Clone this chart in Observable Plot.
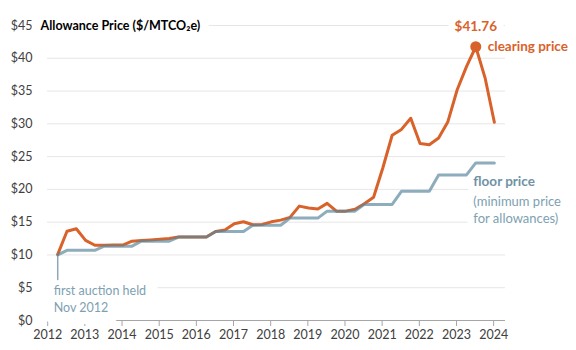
<!DOCTYPE html>
<html>
<head>
<meta charset="utf-8">
<script src="https://cdn.jsdelivr.net/npm/d3@7"></script>
<script src="https://cdn.jsdelivr.net/npm/@observablehq/plot@0.6"></script>
<style>
  html, body { margin: 0; padding: 0; background: #fff; }
</style>
</head>
<body>
<div id="chart"></div>
<script>
// Quarterly auctions, Nov 2012 – Aug 2024
const auctions = [
  "Nov 2012",
  "Feb 2013","May 2013","Aug 2013","Nov 2013",
  "Feb 2014","May 2014","Aug 2014","Nov 2014",
  "Feb 2015","May 2015","Aug 2015","Nov 2015",
  "Feb 2016","May 2016","Aug 2016","Nov 2016",
  "Feb 2017","May 2017","Aug 2017","Nov 2017",
  "Feb 2018","May 2018","Aug 2018","Nov 2018",
  "Feb 2019","May 2019","Aug 2019","Nov 2019",
  "Feb 2020","May 2020","Aug 2020","Nov 2020",
  "Feb 2021","May 2021","Aug 2021","Nov 2021",
  "Feb 2022","May 2022","Aug 2022","Nov 2022",
  "Feb 2023","May 2023","Aug 2023","Nov 2023",
  "Feb 2024","May 2024","Aug 2024"
];
// Auction clearing (settlement) price, $/MTCO2e
const clearingPrice = [
  10.09,
  13.62, 14.00, 12.22, 11.48,
  11.48, 11.50, 11.50, 12.10,
  12.21, 12.29, 12.40, 12.52,
  12.73, 12.73, 12.73, 12.73,
  13.57, 13.80, 14.75, 15.06,
  14.61, 14.65, 15.05, 15.31,
  15.73, 17.45, 17.16, 17.00,
  17.87, 16.68, 16.68, 16.96,
  17.80, 18.80, 23.30, 28.26,
  29.15, 30.85, 27.00, 26.80,
  27.85, 30.33, 35.20, 38.73,
  41.76, 37.02, 30.24
];
// Auction reserve (floor) price
const floorPrice = [
  10.00,
  10.71, 10.71, 10.71, 10.71,
  11.34, 11.34, 11.34, 11.34,
  12.10, 12.10, 12.10, 12.10,
  12.73, 12.73, 12.73, 12.73,
  13.57, 13.57, 13.57, 13.57,
  14.53, 14.53, 14.53, 14.53,
  15.62, 15.62, 15.62, 15.62,
  16.68, 16.68, 16.68, 16.68,
  17.71, 17.71, 17.71, 17.71,
  19.70, 19.70, 19.70, 19.70,
  22.21, 22.21, 22.21, 22.21,
  24.04, 24.04, 24.04
];
const yearLabels = [2012, 2013, 2014, 2015, 2016, 2017, 2018, 2019, 2020, 2021, 2022, 2023, 2024];
const yTicks = [0, 5, 10, 15, 20, 25, 30, 35, 40, 45];

const ORANGE = "#D9622B";
const FLOOR = "#58869C";
const FLOOR_TEXT = "#7E9FB2";
const TEXT = "#404040";

const rows = auctions.map((a, i) => ({i, auction: a, clearing: clearingPrice[i], floor: floorPrice[i]}));
const peakIdx = clearingPrice.indexOf(d3.max(clearingPrice));
const peak = [rows[peakIdx]];
const first = [rows[0]];
const last = [rows[rows.length - 1]];

// year tick positions on the auction-index axis (as placed in the source chart)
const yearPos = yearLabels.map(y => (y - 2012) * 4 - 1.077);
const posToYear = new Map(yearPos.map((p, k) => [p, yearLabels[k]]));

// text with a white knockout behind it (drawn as two marks so multi-line halos never cover glyphs)
function label(data, opts, haloWidth = 14) {
  return [
    Plot.text(data, {...opts, fill: "white", stroke: "white", strokeWidth: haloWidth, strokeLinejoin: "round"}),
    Plot.text(data, opts)
  ];
}
const leader = {draw(context, l) { context.moveTo(0, 0); context.lineTo(0, -l); }};

const chart = Plot.plot({
  width: 576,
  height: 350,
  marginLeft: 47,
  marginRight: 71,
  marginTop: 25,
  marginBottom: 30,
  style: {fontFamily: "Lato, 'Open Sans', sans-serif", fontSize: "12.5px", background: "white", color: TEXT},
  x: {domain: [-1.1, 48.2], axis: null},
  y: {domain: [0, 45], axis: null},
  marks: [
    Plot.gridY(yTicks.filter(d => d > 0), {stroke: "#e6e6e6", strokeOpacity: 1, strokeWidth: 1}),
    Plot.ruleY([0], {stroke: "#a6a6a6", strokeWidth: 1}),
    Plot.axisX(yearPos, {
      tickSize: 6, tickPadding: 4, stroke: "#a6a6a6", label: null,
      tickFormat: d => String(posToYear.get(d)), fill: TEXT, fontSize: 12.5
    }),
    Plot.axisY(yTicks, {
      tickSize: 0, tickPadding: 15, label: null, tickFormat: d => "$" + d, fill: TEXT, fontSize: 12.5
    }),
    // title
    label(["Allowance Price ($/MTCO₂e)"], {
      frameAnchor: "top-left", dx: -7, lineAnchor: "middle", textAnchor: "start",
      fontWeight: "bold", fill: "#000", fontSize: 12.5
    }, 18),
    // first auction annotation
    label(first, {
      x: "i", y: 0, text: () => "first auction held\nNov 2012",
      dx: -4, dy: -22.5, textAnchor: "start", lineAnchor: "middle", lineHeight: 1.36,
      fill: FLOOR_TEXT, fontSize: 12.5
    }, 24),
    Plot.vector(first, {
      x: "i", y: "floor", length: 24.5, rotate: 180, anchor: "start", shape: leader,
      stroke: "#8CA9B9", strokeWidth: 1.5
    }),
    // floor label
    label(last, {
      x: "i", y: "floor", text: () => "floor price", dx: -21, dy: 19,
      textAnchor: "start", fontWeight: "bold", fill: "#6F92A6", fontSize: 13.5
    }),
    label(last, {
      x: "i", y: "floor", text: () => "(minimum price\nfor allowances)", dx: -21, dy: 46,
      textAnchor: "start", lineAnchor: "middle", lineHeight: 1.36, fill: FLOOR_TEXT, fontSize: 13
    }),
    // peak labels
    label(peak, {
      x: "i", y: "clearing", text: d => "$" + d.clearing.toFixed(2), dy: -20,
      fontWeight: "bold", fill: ORANGE, fontSize: 13.5
    }),
    Plot.text(peak, {
      x: "i", y: "clearing", text: () => "clearing price", dx: 12, textAnchor: "start",
      fontWeight: "bold", fill: ORANGE, fontSize: 13.5
    }),
    // series
    Plot.line(rows, {x: "i", y: "clearing", stroke: ORANGE, strokeWidth: 3, strokeLinejoin: "round"}),
    Plot.line(rows, {x: "i", y: "floor", stroke: FLOOR, strokeOpacity: 0.68, strokeWidth: 3, strokeLinejoin: "round"}),
    Plot.dot(peak, {x: "i", y: "clearing", r: 5.5, fill: ORANGE, stroke: "none"})
  ]
});
document.getElementById("chart").appendChild(chart);
</script>
</body>
</html>
